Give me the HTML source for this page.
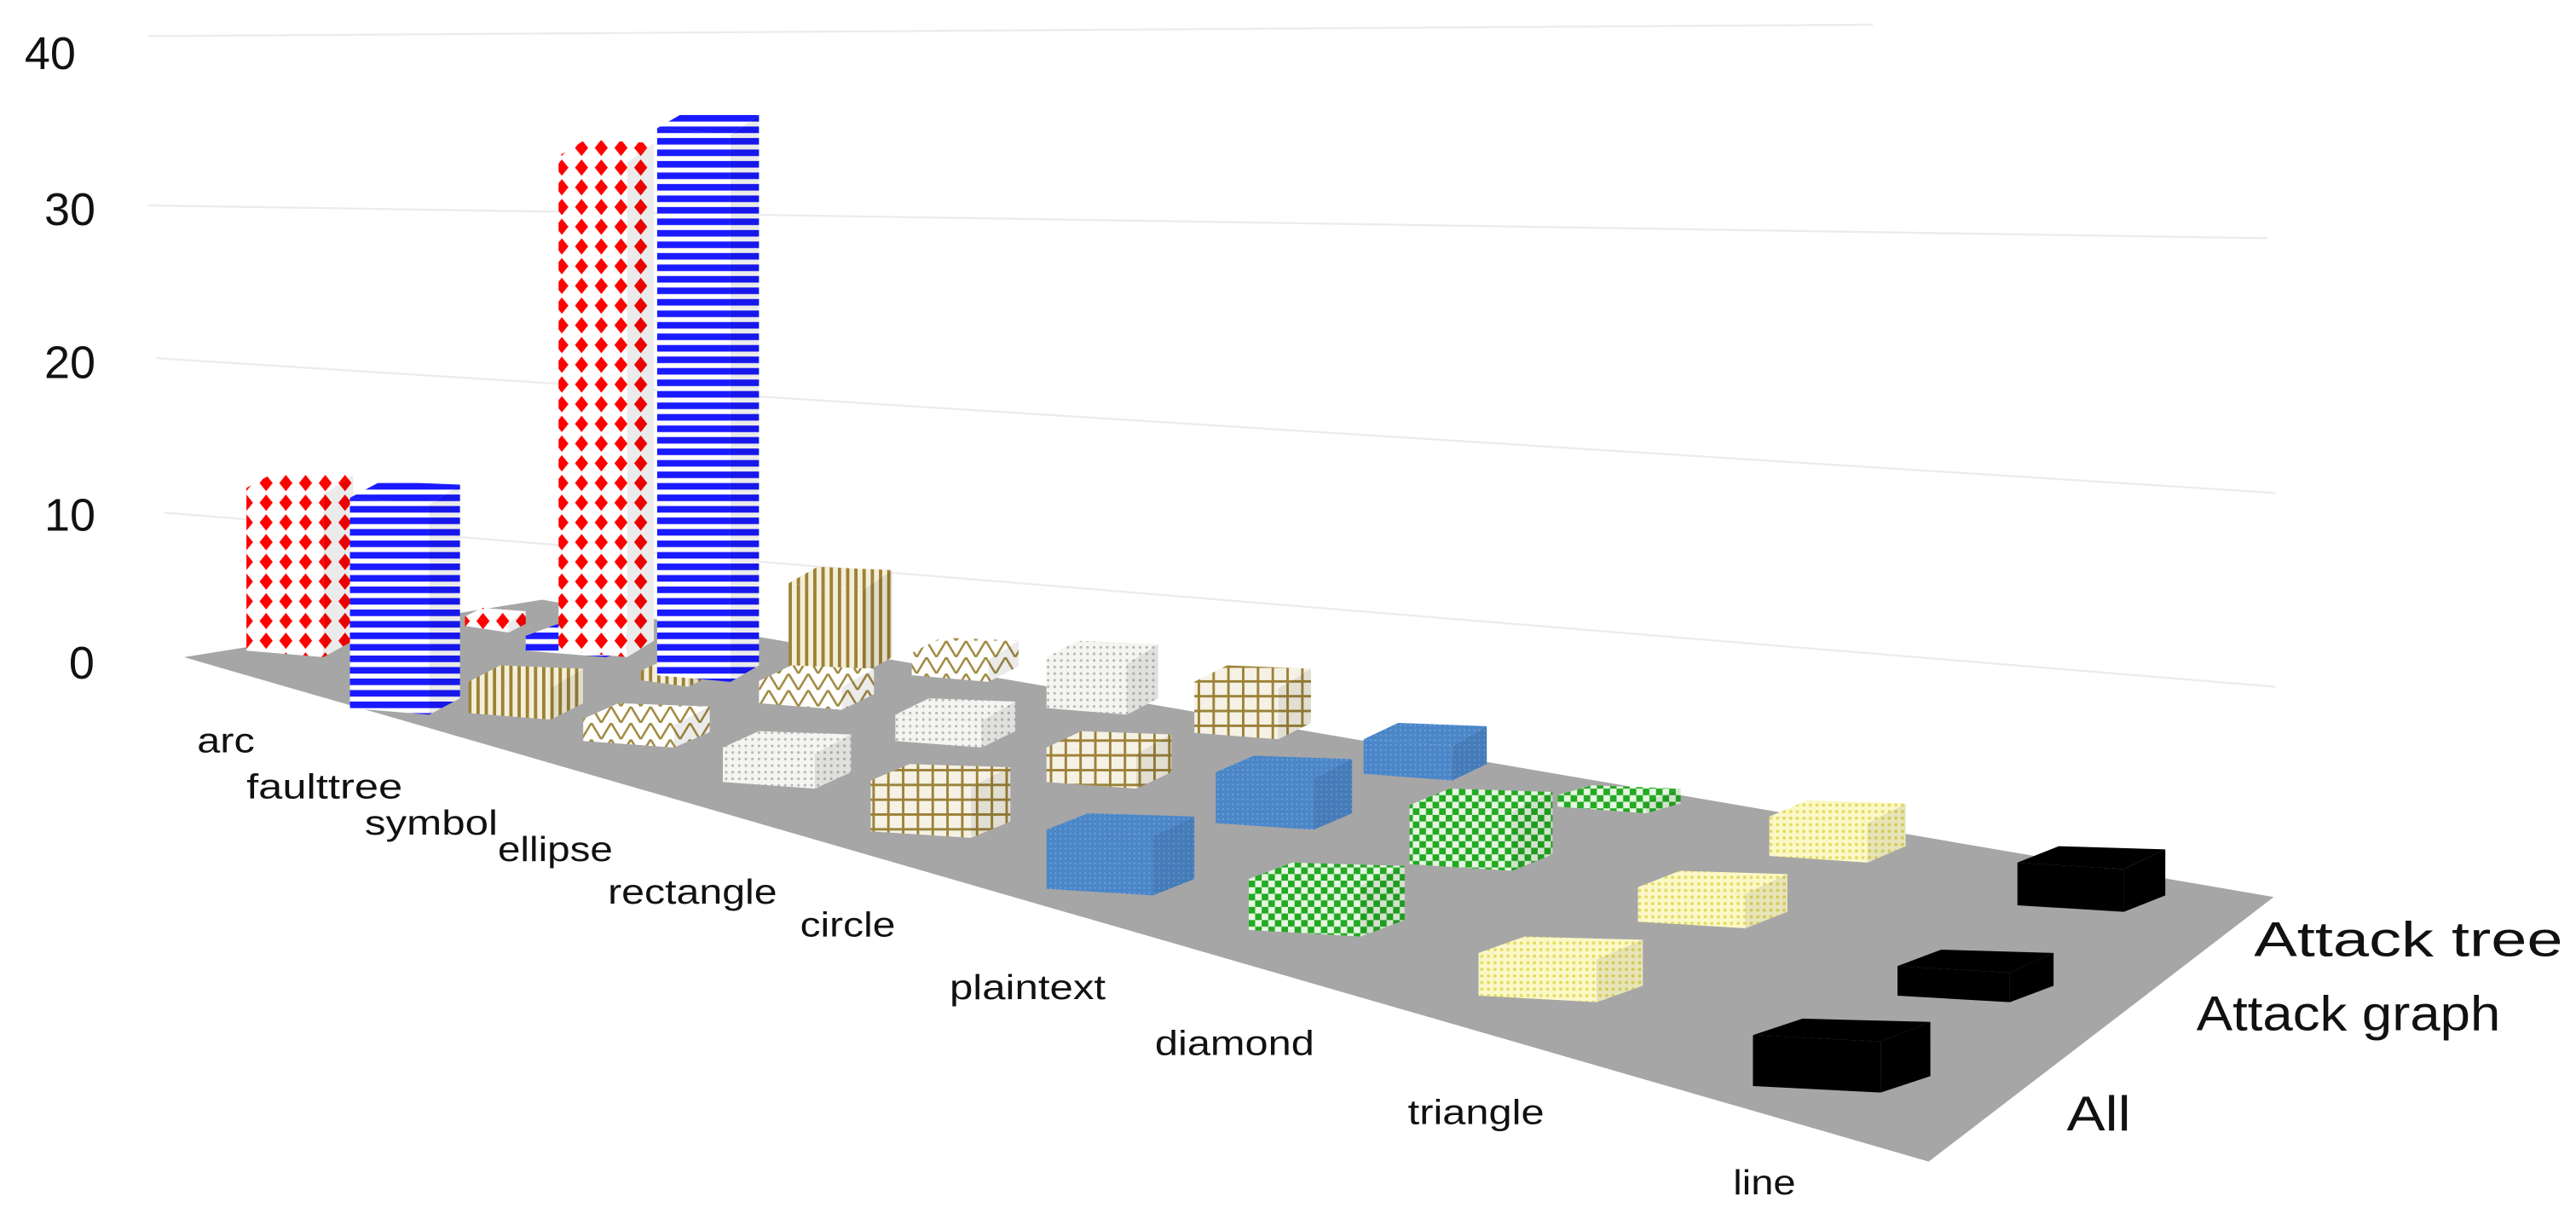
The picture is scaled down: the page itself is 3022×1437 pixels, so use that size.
<!DOCTYPE html>
<html><head><meta charset="utf-8"><style>
html,body{margin:0;padding:0;background:#fff;}
svg{display:block;}
text{font-family:"Liberation Sans",sans-serif;fill:#111;}
</style></head><body>
<svg id="s" width="3022" height="1437" viewBox="0 0 1568 745.6" preserveAspectRatio="none" xmlns="http://www.w3.org/2000/svg">
<defs>
<pattern id="pRed" width="12" height="12" patternUnits="userSpaceOnUse"><rect width="12" height="12" fill="#fff"/><polygon points="6,1 10,6 6,11 2,6" fill="#f00"/></pattern>
<pattern id="pBlue" width="6" height="7" patternUnits="userSpaceOnUse"><rect width="6" height="7" fill="#fff"/><rect y="0" width="6" height="4" fill="#1a1aff"/></pattern>
<pattern id="pGoldV" width="5" height="5" patternUnits="userSpaceOnUse"><rect width="5" height="5" fill="#f4efd8"/><rect x="0" width="2" height="5" fill="#9c8238"/></pattern>
<pattern id="pZig" width="12" height="10" patternUnits="userSpaceOnUse"><rect width="12" height="10" fill="#fff"/><path d="M0,0 L6,10 L12,0" stroke="#a08a40" stroke-width="1.3" fill="none"/></pattern>
<pattern id="pDot" width="4" height="4" patternUnits="userSpaceOnUse"><rect width="4" height="4" fill="#f4f4f2"/><circle cx="2" cy="2" r="0.8" fill="#b8b8b0"/></pattern>
<pattern id="pGrid" width="9" height="9" patternUnits="userSpaceOnUse"><rect width="9" height="9" fill="#f5f1e4"/><rect x="0" width="1.5" height="9" fill="#9c8238"/><rect y="0" width="9" height="1.5" fill="#9c8238"/></pattern>
<pattern id="pSteel" width="3" height="3" patternUnits="userSpaceOnUse"><rect width="3" height="3" fill="#4a86c8"/><rect width="1" height="1" fill="#6fa0d8"/></pattern>
<pattern id="pGreen" width="8" height="8" patternUnits="userSpaceOnUse"><rect width="8" height="8" fill="#e6f6e0"/><rect width="4" height="4" fill="#22aa22"/><rect x="4" y="4" width="4" height="4" fill="#22aa22"/></pattern>
<pattern id="pYel" width="4" height="4" patternUnits="userSpaceOnUse"><rect width="4" height="4" fill="#fbf8c8"/><circle cx="2" cy="2" r="1" fill="#e4dc60"/></pattern>
<pattern id="pBlk" width="4" height="4" patternUnits="userSpaceOnUse"><rect width="4" height="4" fill="#000"/></pattern>
</defs>
<g stroke="#ececec" stroke-width="1.2" fill="none">
<line x1="90" y1="22" x2="1140" y2="15"/>
<line x1="90" y1="125" x2="1380" y2="145"/>
<line x1="95" y1="218" x2="1385" y2="300"/>
<line x1="100" y1="312" x2="1385" y2="418"/>
</g>
<polygon points="112,400 330,365 1384,546 1174,707" fill="#a6a6a6"/>
<g font-size="28">
<text x="15" y="42">40</text>
<text x="27" y="137">30</text>
<text x="27" y="230">20</text>
<text x="27" y="323">10</text>
<text x="42" y="413">0</text>
</g>
<g id="bars"></g>
<g font-size="21" lengthAdjust="spacingAndGlyphs">
<text x="120" y="458" textLength="35" lengthAdjust="spacingAndGlyphs">arc</text>
<text x="150" y="486" textLength="95" lengthAdjust="spacingAndGlyphs">faulttree</text>
<text x="222" y="508" textLength="81" lengthAdjust="spacingAndGlyphs">symbol</text>
<text x="303" y="524" textLength="70" lengthAdjust="spacingAndGlyphs">ellipse</text>
<text x="370" y="550" textLength="103" lengthAdjust="spacingAndGlyphs">rectangle</text>
<text x="487" y="570" textLength="58" lengthAdjust="spacingAndGlyphs">circle</text>
<text x="578" y="608" textLength="95" lengthAdjust="spacingAndGlyphs">plaintext</text>
<text x="703" y="642" textLength="97" lengthAdjust="spacingAndGlyphs">diamond</text>
<text x="857" y="684" textLength="83" lengthAdjust="spacingAndGlyphs">triangle</text>
<text x="1055" y="727" textLength="38" lengthAdjust="spacingAndGlyphs">line</text>
</g>
<g font-size="30">
<text x="1372" y="582" textLength="188" lengthAdjust="spacingAndGlyphs">Attack tree</text>
<text x="1337" y="627" textLength="185" lengthAdjust="spacingAndGlyphs">Attack graph</text>
<text x="1258" y="688" textLength="39" lengthAdjust="spacingAndGlyphs">All</text>
</g>
</svg>
<script>
var B=[
[285,355,405,438,'pGoldV'],[390,430,403,418,'pGoldV'],
[283,320,370,385,'pRed'],[320,388,380,400,'pBlue'],
[150,215,287,400,'pRed'],[213,280,293,435,'pBlue'],
[340,398,85,400,'pRed'],[400,462,68,415,'pBlue'],
[480,543,345,410,'pGoldV'],
[555,620,388,415,'pZig'],[462,532,405,432,'pZig'],[355,432,428,455,'pZig'],
[637,705,390,435,'pDot'],[545,618,425,455,'pDot'],[440,518,445,480,'pDot'],
[727,798,405,450,'pGrid'],[637,713,445,480,'pGrid'],[530,615,465,510,'pGrid'],
[830,905,440,475,'pSteel'],[740,823,460,505,'pSteel'],[637,727,495,545,'pSteel'],
[948,1023,478,495,'pGreen'],[858,945,480,530,'pGreen'],[760,855,525,570,'pGreen'],
[1077,1160,487,525,'pYel'],[997,1088,530,565,'pYel'],[900,1000,570,610,'pYel'],
[1228,1318,515,555,'pBlk'],[1155,1250,578,610,'pBlk'],[1067,1175,620,665,'pBlk']
];
var g=document.getElementById('bars'),h='';
B.forEach(function(b){
 var x0=b[0],x1=b[1],y0=b[2],y1=b[3],p=b[4];
 var H=y1-y0,t=Math.min(10,H*0.35),s=(x1-x0)*0.28;
 var xm=x1-s;
 h+='<polygon points="'+x0+','+(y0+t)+' '+xm+','+(y0+t+4)+' '+xm+','+y1+' '+x0+','+(y1-4)+'" fill="url(#'+p+')"/>';
 h+='<polygon points="'+xm+','+(y0+t+4)+' '+x1+','+(y0+2)+' '+x1+','+(y1-t)+' '+xm+','+y1+'" fill="url(#'+p+')"/>';
 h+='<polygon points="'+xm+','+(y0+t+4)+' '+x1+','+(y0+2)+' '+x1+','+(y1-t)+' '+xm+','+y1+'" fill="#000" opacity="0.08"/>';
 h+='<polygon points="'+x0+','+(y0+t)+' '+(x0+s)+','+y0+' '+x1+','+(y0+2)+' '+xm+','+(y0+t+4)+'" fill="url(#'+p+')"/>';
});
g.innerHTML=h;
</script>
</body></html>
